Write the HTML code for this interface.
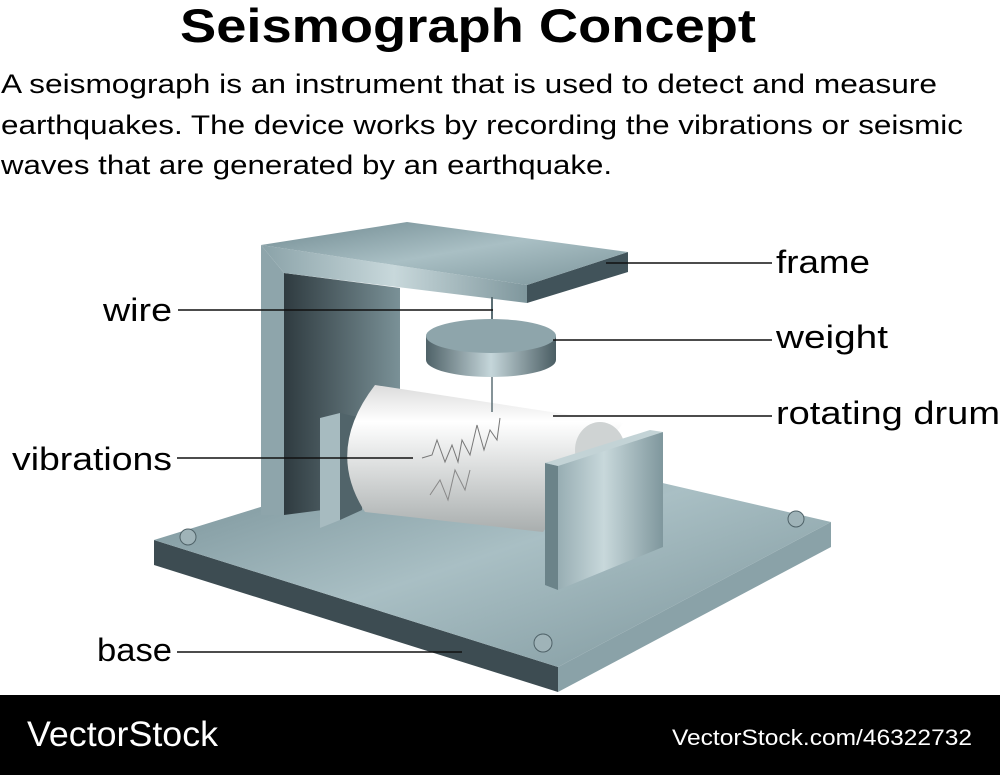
<!DOCTYPE html>
<html><head><meta charset="utf-8"><style>
html,body{margin:0;padding:0;background:#fff;}
svg{display:block;}
text{font-family:"Liberation Sans",sans-serif;}
</style></head><body>
<svg width="1000" height="775" viewBox="0 0 1000 775" xmlns="http://www.w3.org/2000/svg">
<defs>
<linearGradient id="gTop" x1="0" y1="0" x2="1" y2="1">
<stop offset="0" stop-color="#6f8990"/><stop offset="0.5" stop-color="#a9bfc4"/><stop offset="1" stop-color="#7b949a"/></linearGradient>
<linearGradient id="gDark" x1="0" y1="0" x2="1" y2="0">
<stop offset="0" stop-color="#2f3b40"/><stop offset="1" stop-color="#7a9197"/></linearGradient>
<linearGradient id="gLight" x1="0" y1="0" x2="1" y2="0">
<stop offset="0" stop-color="#8aa2a8"/><stop offset="0.5" stop-color="#c8d8db"/><stop offset="1" stop-color="#7f979d"/></linearGradient>
<linearGradient id="gDrum" x1="0" y1="0" x2="0" y2="1">
<stop offset="0" stop-color="#dcdcdc"/><stop offset="0.25" stop-color="#ffffff"/><stop offset="1" stop-color="#a9aeae"/></linearGradient>
<linearGradient id="gCyl" x1="0" y1="0" x2="1" y2="0">
<stop offset="0" stop-color="#4f6268"/><stop offset="0.5" stop-color="#c5d6da"/><stop offset="1" stop-color="#4a5d63"/></linearGradient>
</defs>

<text x="468" y="42" font-size="47" font-weight="bold" text-anchor="middle" textLength="576" lengthAdjust="spacingAndGlyphs">Seismograph Concept</text>
<text x="1" y="93" font-size="27" textLength="936" lengthAdjust="spacingAndGlyphs">A seismograph is an instrument that is used to detect and measure</text>
<text x="1" y="134" font-size="27" textLength="962" lengthAdjust="spacingAndGlyphs">earthquakes. The device works by recording the vibrations or seismic</text>
<text x="1" y="174" font-size="27" textLength="611" lengthAdjust="spacingAndGlyphs">waves that are generated by an earthquake.</text>

<!-- base -->
<polygon points="154,540 558,667 558,692 154,565" fill="#3d4c52"/>
<polygon points="558,667 831,522 831,547 558,692" fill="#8aa2a8"/>
<polygon points="154,540 477,440 831,522 558,667" fill="url(#gTop)"/>
<circle cx="188" cy="537" r="8" fill="#9fb3b8" stroke="#4f6268"/>
<circle cx="796" cy="519" r="8" fill="#9fb3b8" stroke="#4f6268"/>
<circle cx="543" cy="643" r="9" fill="#9fb3b8" stroke="#4f6268"/>

<!-- frame column -->
<polygon points="284,273 400,288 400,500 284,515" fill="url(#gDark)"/>
<polygon points="261,245 284,273 284,515 261,515" fill="#8ea5ab"/>
<!-- top plate -->
<polygon points="261,245 527,285 527,303 284,273" fill="url(#gLight)"/>
<polygon points="527,285 628,252 628,272 527,303" fill="#41535a"/>
<polygon points="261,245 407,222 628,252 527,285" fill="url(#gTop)"/>

<!-- left support -->
<polygon points="320,418 340,413 340,520 320,528" fill="#a7bbc0"/>
<polygon points="340,413 362,418 362,510 340,520" fill="#51646a"/>

<!-- drum -->
<path d="M375,385 L623,423 L543,532 L365,512 Q325,450 375,385 Z" fill="url(#gDrum)"/>
<ellipse cx="600" cy="450" rx="25" ry="28" fill="#cfd3d3"/>
<polyline points="422,458 432,455 437,440 445,462 452,445 458,462 462,440 470,455 477,425 484,450 490,430 497,440 500,418" fill="none" stroke="#777" stroke-width="1"/>
<polyline points="430,495 440,480 448,500 455,470 465,490 470,470" fill="none" stroke="#888" stroke-width="1"/>

<!-- right support -->
<polygon points="545,463 663,432 663,547 558,590 545,585" fill="url(#gLight)"/>
<polygon points="545,463 545,585 558,590 558,466" fill="#6b8389"/>
<polygon points="545,463 650,430 663,432 558,466" fill="#c3d3d6"/>

<!-- weight -->
<line x1="492" y1="297" x2="492" y2="335" stroke="#5c6f75" stroke-width="2"/>
<path d="M426,336 L426,360 A65,17 0 0 0 556,360 L556,336 Z" fill="url(#gCyl)"/>
<ellipse cx="491" cy="336" rx="65" ry="17" fill="#8ea5ab"/>
<line x1="492" y1="377" x2="492" y2="412" stroke="#5c6f75" stroke-width="1.5"/>

<!-- leader lines -->
<g stroke="#111" stroke-width="1.5">
<line x1="606" y1="263" x2="772" y2="263"/>
<line x1="178" y1="310" x2="493" y2="310"/>
<line x1="553" y1="340" x2="772" y2="340"/>
<line x1="553" y1="416" x2="772" y2="416"/>
<line x1="177" y1="458" x2="413" y2="458"/>
<line x1="177" y1="652" x2="462" y2="652"/>
</g>
<g font-size="32">
<text x="776" y="273" textLength="94" lengthAdjust="spacingAndGlyphs">frame</text>
<text x="103" y="321" textLength="69" lengthAdjust="spacingAndGlyphs">wire</text>
<text x="776" y="348" textLength="112" lengthAdjust="spacingAndGlyphs">weight</text>
<text x="776" y="424" textLength="224" lengthAdjust="spacingAndGlyphs">rotating drum</text>
<text x="12" y="470" textLength="160" lengthAdjust="spacingAndGlyphs">vibrations</text>
<text x="97" y="661" textLength="75" lengthAdjust="spacingAndGlyphs">base</text>
</g>

<!-- footer -->
<rect x="0" y="695" width="1000" height="80" fill="#000"/>
<text x="27" y="746" font-size="35" fill="#fff" textLength="191" lengthAdjust="spacingAndGlyphs">VectorStock</text>
<text x="672" y="745" font-size="22" fill="#fff" textLength="300" lengthAdjust="spacingAndGlyphs">VectorStock.com/46322732</text>
</svg>
</body></html>
